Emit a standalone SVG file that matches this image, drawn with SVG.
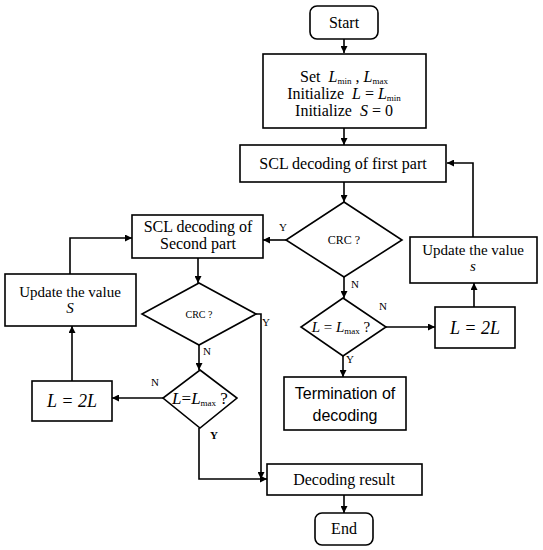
<svg xmlns="http://www.w3.org/2000/svg" width="543" height="550" viewBox="0 0 543 550">
<style>
.b{fill:#fff;stroke:#000;stroke-width:1.6}
.c{fill:none;stroke:#000;stroke-width:1.6}
.t{font-family:"Liberation Serif","Times New Roman",serif;font-size:16px;fill:#000;text-anchor:middle}
.s{font-family:"Liberation Sans",Arial,sans-serif;font-size:16px;fill:#000;text-anchor:middle}
.i{font-style:italic}
.sub{font-size:9px}
.lb{font-family:"Liberation Serif","Times New Roman",serif;font-size:11px;fill:#000;text-anchor:middle}
</style>
<defs>
<marker id="ah" viewBox="0 0 10 10" refX="10" refY="5" markerWidth="7" markerHeight="7" markerUnits="userSpaceOnUse" orient="auto">
<path d="M0,0 L10,5 L0,10 z" fill="#000"/>
</marker>
</defs>
<rect width="543" height="550" fill="#fff"/>
<g id="connectors">
<line class="c" x1="344" y1="39" x2="344" y2="53" marker-end="url(#ah)"/>
<line class="c" x1="344" y1="128" x2="344" y2="145" marker-end="url(#ah)"/>
<line class="c" x1="344" y1="182" x2="344" y2="202" marker-end="url(#ah)"/>
<line class="c" x1="286" y1="240" x2="263" y2="240" marker-end="url(#ah)"/>
<line class="c" x1="344" y1="277" x2="344" y2="298" marker-end="url(#ah)"/>
<line class="c" x1="386" y1="327" x2="435" y2="327" marker-end="url(#ah)"/>
<line class="c" x1="343" y1="356" x2="343" y2="377" marker-end="url(#ah)"/>
<line class="c" x1="474" y1="307" x2="474" y2="283" marker-end="url(#ah)"/>
<polyline class="c" points="473,237 473,163 447,163" marker-end="url(#ah)"/>
<line class="c" x1="198" y1="258" x2="198" y2="283" marker-end="url(#ah)"/>
<line class="c" x1="199" y1="345" x2="199" y2="370" marker-end="url(#ah)"/>
<line class="c" x1="163" y1="398" x2="112" y2="398" marker-end="url(#ah)"/>
<line class="c" x1="72" y1="381" x2="72" y2="326" marker-end="url(#ah)"/>
<polyline class="c" points="70,274 70,238 132,238" marker-end="url(#ah)"/>
<polyline class="c" points="256,314 261,314 261,479" marker-end="url(#ah)"/>
<polyline class="c" points="199,428 199,479 267,479" marker-end="url(#ah)"/>
<line class="c" x1="344" y1="495" x2="344" y2="513" marker-end="url(#ah)"/>
</g>
<g id="labels">
<text class="lb" x="283" y="231">Y</text>
<text class="lb" x="355" y="288">N</text>
<text class="lb" x="383" y="310">N</text>
<text class="lb" x="350" y="363">Y</text>
<text class="lb" x="266" y="326">Y</text>
<text class="lb" x="207" y="355">N</text>
<text class="lb" x="155" y="386">N</text>
<text class="lb" x="214" y="439" style="font-weight:bold">Y</text>
</g>
<g id="start">
<rect class="b" x="310" y="6" width="68" height="33" rx="7"/>
<text class="t" x="344" y="28">Start</text>
</g>
<g id="init">
<rect class="b" x="263" y="54" width="163" height="74"/>
<text class="t" x="344" y="82">Set&#160;&#160;<tspan class="i">L</tspan><tspan class="sub" dy="2">min</tspan><tspan dy="-2"> , </tspan><tspan class="i">L</tspan><tspan class="sub" dy="2">max</tspan></text>
<text class="t" x="344" y="99">Initialize&#160;&#160;<tspan class="i">L</tspan> = <tspan class="i">L</tspan><tspan class="sub" dy="2">min</tspan></text>
<text class="t" x="344" y="116">Initialize&#160;&#160;<tspan class="i">S</tspan> = 0</text>
</g>
<g id="scl1">
<rect class="b" x="240" y="145" width="206" height="37"/>
<text class="t" x="343" y="169">SCL decoding of first part</text>
</g>
<g id="crc1">
<polygon class="b" points="344,202 402,240 344,277 286,240"/>
<text class="t" x="344" y="244" style="font-size:12px">CRC ?</text>
</g>
<g id="lmax1">
<polygon class="b" points="343,298 386,327 343,356 301,327"/>
<text class="t" x="341" y="332" style="font-size:15px"><tspan class="i">L</tspan> = <tspan class="i">L</tspan><tspan class="sub" dy="2">max</tspan><tspan dy="-2"> ?</tspan></text>
</g>
<g id="l2l1">
<rect class="b" x="435" y="307" width="80" height="41"/>
<text class="t i" x="475" y="334" style="font-size:18px">L = 2L</text>
</g>
<g id="upd1">
<rect class="b" x="410" y="237" width="127" height="46"/>
<text class="t" x="473" y="255" style="font-size:15px">Update the value</text>
<text class="t i" x="473" y="271" style="font-size:15px">s</text>
</g>
<g id="term">
<rect class="b" x="284" y="377" width="122" height="53"/>
<text class="s" x="345" y="399">Termination of</text>
<text class="s" x="345" y="421">decoding</text>
</g>
<g id="scl2">
<rect class="b" x="132" y="215" width="131" height="43"/>
<text class="t" x="198" y="232">SCL decoding of</text>
<text class="t" x="198" y="249">Second part</text>
</g>
<g id="crc2">
<polygon class="b" points="199,283 256,314 199,345 142,314"/>
<text class="t" x="199" y="318" style="font-size:10px">CRC ?</text>
</g>
<g id="lmax2">
<polygon class="b" points="200,370 237,398 200,428 163,398"/>
<text class="t" x="200" y="404" style="font-size:17px"><tspan class="i">L</tspan>=<tspan class="i">L</tspan><tspan class="sub" dy="2">max</tspan><tspan dy="-2"> ?</tspan></text>
</g>
<g id="l2l2">
<rect class="b" x="32" y="381" width="80" height="40"/>
<text class="t i" x="72" y="407" style="font-size:18px">L = 2L</text>
</g>
<g id="upd2">
<rect class="b" x="5" y="274" width="131" height="52"/>
<text class="t" x="70" y="297" style="font-size:15px">Update the value</text>
<text class="t i" x="70" y="313" style="font-size:15px">S</text>
</g>
<g id="result">
<rect class="b" x="267" y="464" width="155" height="31"/>
<text class="t" x="344" y="485">Decoding result</text>
</g>
<g id="end">
<rect class="b" x="315" y="513" width="58" height="32" rx="7"/>
<text class="t" x="344" y="534">End</text>
</g>
</svg>
